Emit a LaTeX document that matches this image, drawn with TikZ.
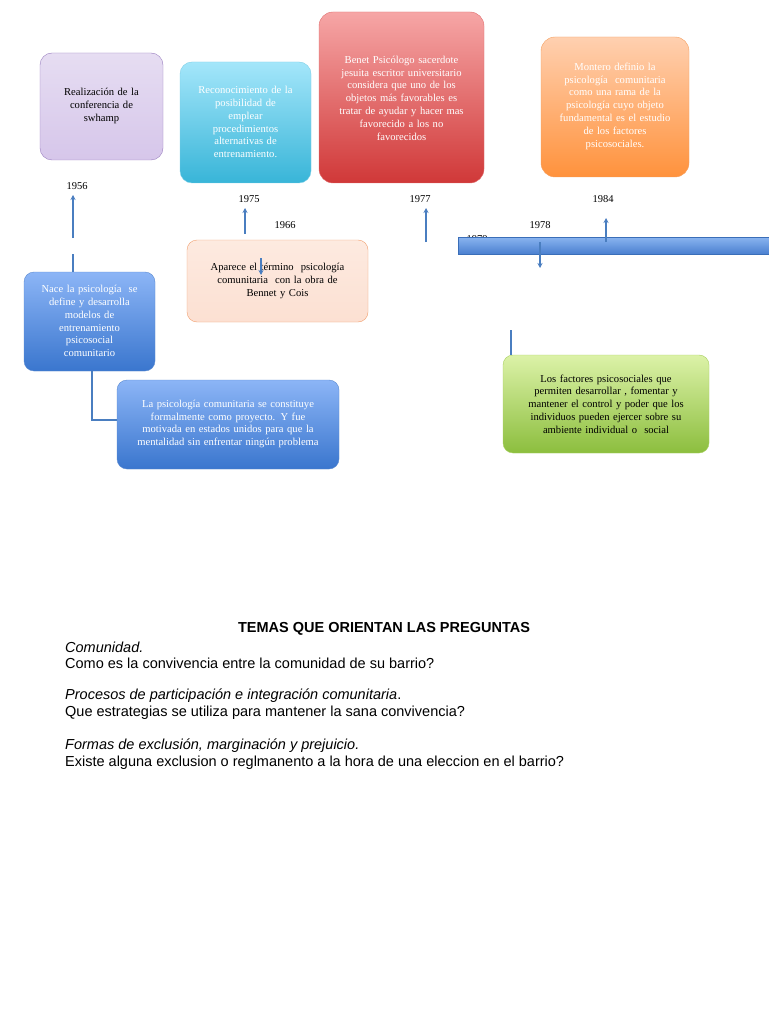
\documentclass[tikz,border=0pt]{standalone}
\usepackage{fontspec}
\setmainfont{Liberation Serif}
\newfontfamily\arialf{Liberation Sans}
\usetikzlibrary{arrows.meta}
\definecolor{ln}{HTML}{4A7EC0}
\definecolor{pu1}{HTML}{E6DDF2}\definecolor{pu2}{HTML}{D6C6EA}\definecolor{pu3}{HTML}{9A7FC0}
\definecolor{cy1}{HTML}{A4E6FA}\definecolor{cy2}{HTML}{38B5D8}\definecolor{cy3}{HTML}{7FD0E8}
\definecolor{re1}{HTML}{F6A6A6}\definecolor{re2}{HTML}{D03838}\definecolor{re3}{HTML}{E07070}
\definecolor{or1}{HTML}{FFD0B0}\definecolor{or2}{HTML}{FF923C}\definecolor{or3}{HTML}{F5A060}
\definecolor{pe1}{HTML}{FDEAE0}\definecolor{pe2}{HTML}{FCE0D2}\definecolor{pe3}{HTML}{F2A070}
\definecolor{bl1}{HTML}{8CB5F6}\definecolor{bl2}{HTML}{3A76CE}\definecolor{bl3}{HTML}{5A8AD0}
\definecolor{gr1}{HTML}{DCF2A8}\definecolor{gr2}{HTML}{8CBE3E}\definecolor{gr3}{HTML}{A8D060}
\definecolor{ba1}{HTML}{8AB4F0}\definecolor{ba2}{HTML}{4A80D0}\definecolor{ba3}{HTML}{3A6EB8}
\tikzset{
 bx/.style={align=center,font=\fontsize{10.6}{12.8}\selectfont,inner sep=1pt},
 yr/.style={font=\fontsize{10.5}{11}\selectfont},
 ar/.style={ln,line width=1.3pt,-{Stealth[length=5pt,width=5pt]}},
 cn/.style={ln,line width=1.3pt},
}
\begin{document}
\begin{tikzpicture}[x=1pt,y=-1pt]
\useasboundingbox (0,0) rectangle (768,1024);
\fill[white] (0,0) rectangle (768,1024);
% boxes
\shade[rounded corners=12pt,top color=pu1,bottom color=pu2,draw=pu3] (40,53) rectangle (163,160);
\shade[rounded corners=12pt,top color=cy1,bottom color=cy2,draw=cy3] (180,62) rectangle (311,183);
\shade[rounded corners=14pt,top color=re1,bottom color=re2,draw=re3] (319,12) rectangle (484,183);
\shade[rounded corners=14pt,top color=or1,bottom color=or2,draw=or3] (541,37) rectangle (689,177);
\shade[rounded corners=10pt,top color=pe1,bottom color=pe2,draw=pe3] (187,240) rectangle (368,322);
\shade[rounded corners=10pt,top color=bl1,bottom color=bl2,draw=bl3] (24,272) rectangle (155,371);
\shade[rounded corners=10pt,top color=bl1,bottom color=bl2,draw=bl3] (117,380) rectangle (339,469);
\shade[rounded corners=10pt,top color=gr1,bottom color=gr2,draw=gr3] (503,355) rectangle (709,453);
\node[bx,text width=120pt] (a) at (101.5,106) {Realización de la\\conferencia de\\swhamp};
\node[bx,text width=130pt,text=white] (b) at (245.5,122) {Reconocimiento de la\\posibilidad de\\emplear\\procedimientos\\alternativas de\\entrenamiento.};
\node[bx,text width=164pt,text=white] (c) at (401.5,98) {Benet Psicólogo sacerdote\\jesuita escritor universitario\\considera que uno de los\\objetos más favorables es\\tratar de ayudar y hacer mas\\favorecido a los no\\favorecidos};
\node[bx,text width=146pt,text=white] (d) at (615,106) {Montero definio la\\psicología \ comunitaria\\como una rama de la\\psicología cuyo objeto\\fundamental es el estudio\\de los factores\\psicosociales.};
\node[bx,text width=180pt] (e) at (277.5,281) {Aparece el término \ psicología\\comunitaria \ con la obra de\\Bennet y Cois};
\node[bx,text width=130pt,text=white] (f) at (89.5,321) {Nace la psicología \ se\\define y desarrolla\\modelos de\\entrenamiento\\psicosocial\\comunitario};
\node[bx,text width=220pt,text=white] (g) at (228,424) {La psicología comunitaria se constituye\\formalmente como proyecto. Y fue\\motivada en estados unidos para que la\\mentalidad sin enfrentar ningún problema};
\node[bx,text width=205pt] (h) at (606,404) {Los factores psicosociales que\\permiten desarrollar , fomentar y\\mantener el control y poder que los\\individuos pueden ejercer sobre su\\ambiente individual o \ social};
% years
\node[yr] (y56) at (77,186) {1956};
\node[yr] (y75) at (249,199) {1975};
\node[yr] (y66) at (285,225) {1966};
\node[yr] (y77) at (420,199) {1977};
\node[yr] (y84) at (603,199) {1984};
\node[yr] (y78) at (540,225) {1978};
\node[yr] (y79) at (477,239) {1979};
% bar
\shade[top color=ba1,bottom color=ba2,draw=ba3] (458,237) rectangle (770,254);
% arrows
\coordinate (p1) at (73,238); \coordinate (q1) at (73,195);
\draw[ar] (p1) -- (q1);
\coordinate (p0) at (73,254); \coordinate (q0) at (73,272);
\draw[cn] (p0) -- (q0);
\coordinate (p2) at (245,234); \coordinate (q2) at (245,208);
\draw[ar] (p2) -- (q2);
\coordinate (p3) at (426,242); \coordinate (q3) at (426,208);
\draw[ar] (p3) -- (q3);
\coordinate (p4) at (606,242); \coordinate (q4) at (606,218);
\draw[ar] (p4) -- (q4);
\coordinate (p5) at (540,242); \coordinate (q5) at (540,268);
\draw[ar] (p5) -- (q5);
\coordinate (p6) at (261,258); \coordinate (q6) at (261,275);
\draw[ar] (p6) -- (q6);
\coordinate (p7) at (511,330); \coordinate (q7) at (511,355);
\draw[cn] (p7) -- (q7);
\coordinate (p8) at (92,371); \coordinate (q8) at (117,420);
\draw[cn] (p8) |- (q8);
% bottom text
\node[font=\arialf\bfseries\fontsize{14.5}{16}\selectfont] (t) at (384,629) {TEMAS QUE ORIENTAN LAS PREGUNTAS};
\begin{scope}[every node/.style={anchor=west,font=\arialf\fontsize{14.5}{16}\selectfont,inner sep=0pt}]
\node (l1) at (65,647) {\itshape Comunidad.};
\node (l2) at (65,663) {Como es la convivencia entre la comunidad de su barrio?};
\node (l3) at (65,696) {\itshape Procesos de participación e integración comunitaria\upshape.};
\node (l4) at (65,713) {Que estrategias se utiliza para mantener la sana convivencia?};
\node (l5) at (65,746) {\itshape Formas de exclusión, marginación y prejuicio.};
\node (l6) at (65,763) {Existe alguna exclusion o reglmanento a la hora de una eleccion en el barrio?};
\end{scope}
\end{tikzpicture}
\end{document}
